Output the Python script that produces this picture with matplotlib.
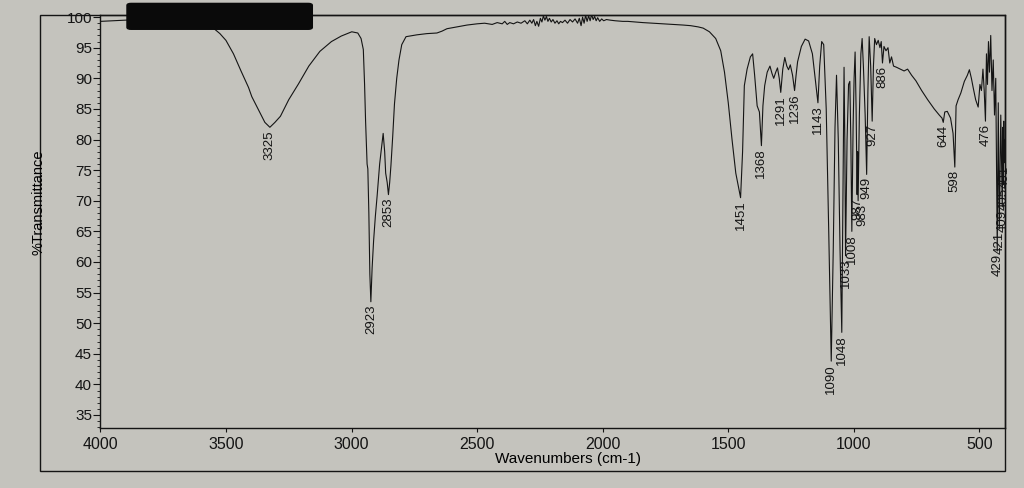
import matplotlib.pyplot as plt
import numpy as np
from matplotlib.patches import FancyBboxPatch, Rectangle


# %% Style
PAPER = "#c4c3bd"
INK = "#141414"
plt.rcParams.update(
    {
        "font.family": ["Liberation Sans", "DejaVu Sans"],
        "font.size": 11,
        "axes.linewidth": 1.0,
        "axes.edgecolor": INK,
        "xtick.color": INK,
        "ytick.color": INK,
    }
)


# %% Data
wavenumber = [
    4000, 3900, 3800, 3700, 3620, 3580, 3550, 3524, 3500, 3470, 3440, 3410,
    3397, 3370, 3345, 3325, 3305, 3283, 3250, 3211, 3170, 3126, 3080, 3041,
    2999, 2975, 2962, 2953, 2948, 2944, 2938, 2935, 2931, 2927, 2923, 2918,
    2912, 2905, 2898, 2888, 2881, 2874, 2868, 2864, 2858, 2853, 2848, 2843,
    2836, 2829, 2820, 2811, 2800, 2783,
    2740, 2700, 2660, 2640, 2620, 2580, 2540, 2500, 2470, 2440, 2420, 2400,
    2390, 2380, 2370, 2355, 2340, 2325, 2310, 2300, 2290, 2282, 2275, 2268,
    2262, 2255, 2248, 2242, 2236, 2230, 2224, 2218, 2212, 2205, 2198, 2190,
    2182, 2175, 2168, 2160, 2150, 2140, 2130, 2120, 2110, 2100, 2093, 2086,
    2080, 2074, 2068, 2062, 2056, 2050, 2044, 2038, 2032, 2026, 2020, 2012,
    2004, 1996, 1985, 1970, 1950, 1920, 1900, 1870, 1840, 1800, 1760, 1720,
    1680, 1650, 1620, 1600, 1575, 1550, 1530, 1515, 1500, 1485, 1470, 1451,
    1443, 1436, 1425, 1412, 1403, 1395, 1385, 1376, 1368, 1362, 1355, 1345,
    1334, 1326, 1319, 1311, 1304, 1297, 1291, 1283, 1275, 1267, 1260, 1253,
    1244, 1236, 1230, 1224, 1209, 1194, 1180, 1165, 1154, 1143, 1136, 1128,
    1120, 1110, 1100, 1090, 1082, 1075, 1069, 1062, 1055, 1048, 1043, 1039,
    1036, 1033, 1027, 1021, 1016, 1012, 1008, 1003, 999, 995, 991, 987,
    985, 983, 978, 972, 967, 962, 955, 949, 944, 939, 933, 927,
    922, 917, 910, 903, 896, 891, 886, 880, 872, 864, 857, 850,
    842, 830, 815, 800, 786, 770, 753, 730, 706, 680, 660, 649,
    644, 638, 628, 615, 605, 601, 598, 595, 593, 585, 574, 560,
    548, 540, 532, 525, 515, 505, 498, 492, 486, 481, 476, 472,
    468, 464, 460, 455, 450, 445, 440, 435, 429, 425, 421, 415,
    409, 407, 405, 403, 401, 400,
]
transmittance = [
    99.3, 99.5, 99.6, 99.5, 99.2, 98.8, 98.2, 97.3, 96.2, 94.0, 91.2, 88.5,
    87.0, 84.8, 82.8, 82.0, 82.8, 83.8, 86.5, 89.1, 92.0, 94.4, 96.0, 96.9,
    97.6, 97.4, 96.5, 94.7, 89.0, 83.0, 76.0, 75.2, 68.0, 58.0, 53.5, 59.0,
    63.5, 67.5, 70.8, 76.0, 78.5, 81.0, 78.0, 74.5, 73.0, 71.0, 73.0, 75.8,
    80.5, 85.8, 90.0, 93.0, 95.5, 96.8,
    97.1, 97.3, 97.4, 97.7, 98.1, 98.4, 98.7, 98.9, 99.0, 98.8, 99.1, 98.9,
    99.3, 98.8, 99.1, 98.9, 99.2, 99.0, 99.4, 98.9, 99.5, 99.0, 99.6, 98.6,
    99.3, 98.5, 99.8, 99.2, 100.2, 99.5, 100.1, 99.3, 99.8, 99.2, 99.6, 99.0,
    99.4, 98.9, 99.3, 99.1, 99.5, 99.0, 99.6, 99.2, 99.7, 99.0, 99.8, 98.6,
    100.0, 99.0, 100.3, 99.3, 100.2, 99.4, 100.4, 99.6, 100.1, 99.4, 99.9, 99.3,
    99.7, 99.4, 99.6, 99.5, 99.4, 99.3, 99.3, 99.2, 99.1, 99.0, 98.9, 98.8,
    98.7, 98.6, 98.4, 98.2, 97.6, 96.5, 94.5, 91.0, 86.0, 80.0, 74.5, 70.5,
    78.0, 88.8, 91.5, 93.5, 94.0, 90.5, 85.5, 84.5, 79.0, 85.5, 88.8, 91.0,
    92.0, 90.8, 90.0, 91.0, 91.7, 90.0, 87.7, 91.5, 93.4, 92.0, 91.4, 92.2,
    90.5, 88.0, 90.5, 92.7, 95.2, 96.4, 96.1, 94.0, 90.0, 86.0, 92.0, 96.0,
    95.5, 85.0, 65.0, 43.8, 62.0, 82.0, 90.5, 80.0, 62.0, 48.5, 72.0, 91.8,
    80.0, 61.0, 80.0, 89.0, 89.5, 80.0, 65.0, 82.0, 90.0, 94.3, 85.0, 71.0,
    78.0, 70.0, 84.0, 94.0, 96.5, 92.0, 84.0, 74.3, 88.0, 96.8, 92.0, 83.0,
    92.0, 96.5, 95.5, 96.2, 95.0, 96.0, 92.5, 95.2, 94.5, 95.0, 92.5, 93.5,
    92.0, 91.8, 91.5, 91.2, 91.5, 90.5, 89.6, 88.0, 86.5, 85.0, 84.0, 83.5,
    82.8, 84.5, 84.6, 83.5, 81.0, 78.0, 75.5, 82.0, 85.5, 86.5, 87.6, 89.5,
    90.5, 91.4, 90.0, 88.5, 86.5, 85.3, 89.0, 88.0, 91.5, 88.0, 83.0, 94.0,
    89.0, 96.0, 91.0, 97.0, 88.0, 93.0, 84.0, 90.0, 61.8, 86.0, 65.4, 84.0,
    69.0, 82.0, 72.6, 83.0, 76.2, 80.0,
]
peak_labels = [
    3325, 2923, 2853, 1451, 1368, 1291, 1236, 1143, 1090, 1048, 1033, 1008,
    987, 983, 949, 927, 886, 644, 598, 476, 429, 421, 409, 405, 401,
]
x_ticks = [4000, 3500, 3000, 2500, 2000, 1500, 1000, 500]
y_ticks = list(range(35, 101, 5))


# %% Plot
fig = plt.figure(figsize=(10.24, 4.88), dpi=100, facecolor=PAPER)
ax = fig.add_axes([0.098, 0.122, 0.883, 0.848], zorder=2)
ax.set_facecolor("none")

# printed frame of the sheet; its right and top edges run along the axes box
frame_left, frame_bottom = 0.039, 0.034
frame = Rectangle((frame_left, frame_bottom), 0.981 - frame_left, 0.970 - frame_bottom,
                  transform=fig.transFigure, facecolor="none", edgecolor=INK,
                  linewidth=1.0, zorder=-5)
fig.patches.append(frame)

ax.plot(wavenumber, transmittance, color=INK, linewidth=0.8)

wn_asc = np.array(wavenumber)[::-1]
t_asc = np.array(transmittance)[::-1]
for p in peak_labels:
    t = np.interp(p, wn_asc, t_asc)
    dx = 3 if p == 983 else 0  # printout nudges this one beside 987
    ax.annotate(str(p), (p, t), xytext=(dx, -2), textcoords="offset points",
                rotation=90, ha="center", va="top", fontsize=9.5, color=INK)

ax.set_xlim(4000, 400)
ax.set_ylim(32.8, 100.4)
ax.set_xticks(x_ticks)
ax.set_yticks(y_ticks)
ax.set_yticks(range(33, 101), minor=True)
ax.tick_params(axis="x", direction="out", length=3, labelsize=11.5, pad=3)
ax.tick_params(axis="y", which="major", direction="out", length=5, labelsize=11, pad=1)
ax.tick_params(axis="y", which="minor", direction="out", length=2.5)
ax.set_xlabel("Wavenumbers (cm-1)", fontsize=11)
ax.set_ylabel("%Transmittance", fontsize=10.5)
ax.xaxis.set_label_coords(0.517, -0.056)
ax.yaxis.set_label_coords(-0.061, 0.547)

# redaction bar over the top-left corner of the printout
bar = FancyBboxPatch((0.128, 0.944), 0.173, 0.045, transform=fig.transFigure,
                     boxstyle="round,pad=0.004", facecolor="#0a0a0a",
                     edgecolor="#0a0a0a", zorder=10)
fig.patches.append(bar)

fig.savefig("out.png", dpi=100, facecolor=fig.get_facecolor())
